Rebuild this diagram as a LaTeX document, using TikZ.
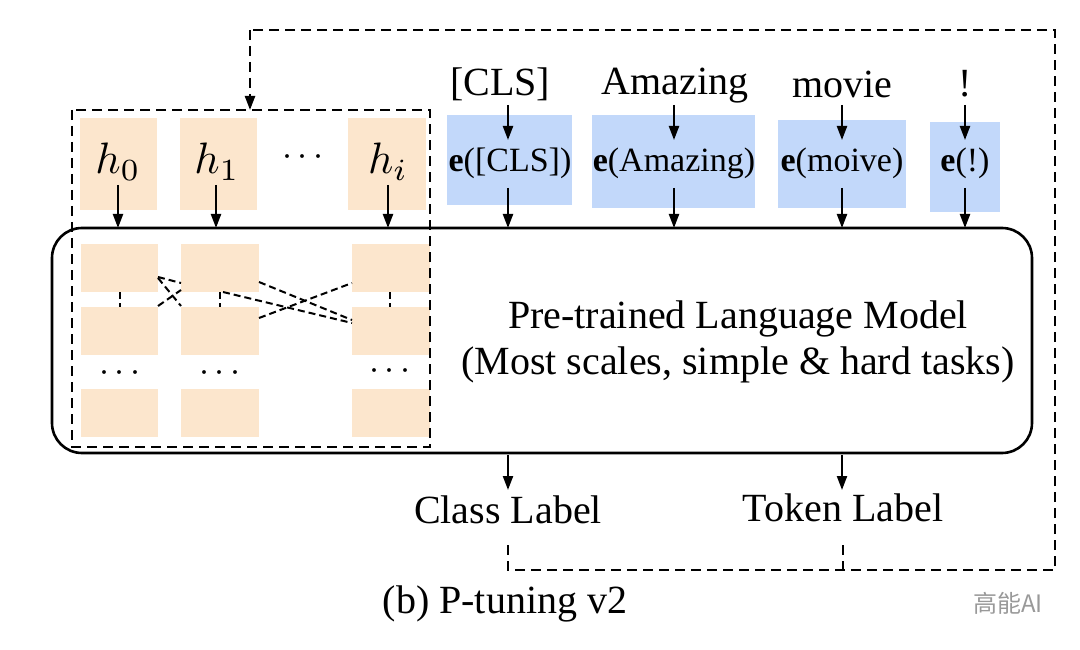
\documentclass[tikz,border=0pt]{standalone}
\usepackage{fontspec}
\usepackage{graphicx}
\setmainfont{Liberation Serif}
\newfontfamily\cjk{Noto Sans CJK SC}
\usetikzlibrary{arrows.meta}
\definecolor{org}{HTML}{FCE6CD}
\definecolor{blu}{HTML}{C2D8FA}
\begin{document}
\begin{tikzpicture}[x=1pt,y=-1pt,
  ob/.style={fill=org,draw=none},
  bb/.style={fill=blu,draw=none},
  arr/.style={-{Triangle[length=14pt,width=10pt]},line width=2.2pt},
  dsh/.style={line width=2.3pt,dash pattern=on 10pt off 6pt},
  sdsh/.style={line width=2pt,dash pattern=on 7pt off 4pt},
  txt/.style={font=\fontsize{40}{46}\selectfont},
  etxt/.style={font=\fontsize{34}{36}\selectfont},
  lab/.style={font=\fontsize{40}{42}\selectfont}]
\useasboundingbox (0,0) rectangle (1080,650);
% top orange
\fill[ob] (80,118) rectangle (157,210);
\fill[ob] (180,118) rectangle (257,210);
\fill[ob] (348,118) rectangle (426,210);
\node (h0) at (118,162) {\scalebox{4.4}{$h_0$}};
\node (h1) at (217,162) {\scalebox{4.4}{$h_1$}};
\node (hi) at (388,162) {\scalebox{4.4}{$h_i$}};
\node (hd) at (303,158) {\scalebox{3.6}{$\cdots$}};
% rounded model
\draw[line width=2.6pt,rounded corners=30pt] (52,228) rectangle (1032,453);
\node[txt,align=center] (plm) at (738,342) {Pre-trained Language Model\\(Most scales, simple \& hard tasks)};
% inner boxes
\foreach \x/\w in {81/158,181/259,352/430}{
  \fill[ob] (\x,244) rectangle (\w,292);
  \fill[ob] (\x,307) rectangle (\w,355);
  \fill[ob] (\x,389) rectangle (\w,437);
}
\node (d1) at (120,373) {\scalebox{3.6}{$\cdots$}};
\node (d2) at (220,373) {\scalebox{3.6}{$\cdots$}};
\node (d3) at (390,371) {\scalebox{3.6}{$\cdots$}};
\foreach \x in {120,220,390}{\draw[sdsh] (\x,292) -- (\x,307);}
\draw[sdsh] (158,278) -- (181,306);
\draw[sdsh] (158,306) -- (181,290);
\draw[sdsh] (158,277) -- (181,283);
\draw[sdsh] (223,292) -- (352,323);
\draw[sdsh] (259,282) -- (352,320);
\draw[sdsh] (259,318) -- (352,283);
% dashed group box
\draw[dsh] (72,110) rectangle (430,447);
% h arrows
\draw[arr] (118,185) -- (118,228);
\draw[arr] (216,185) -- (216,228);
\draw[arr] (388,185) -- (388,228);
% blue boxes
\fill[bb] (447,115) rectangle (572,205);
\fill[bb] (592,115) rectangle (755,208);
\fill[bb] (778,120) rectangle (906,208);
\fill[bb] (930,122) rectangle (1000,212);
\node[etxt] (e1) at (510,163) {\textbf{e}([CLS])};
\node[etxt] (e2) at (674,163) {\textbf{e}(Amazing)};
\node[etxt] (e3) at (842,163) {\textbf{e}(moive)};
\node[etxt] (e4) at (965,163) {\textbf{e}(!)};
\node[lab] (w1) at (500,84) {[CLS]};
\node[lab] (w2) at (675,86) {Amazing};
\node[lab] (w3) at (842,84) {movie};
\node[lab] (w4) at (965,84) {!};
\foreach \x in {508,674,842,965}{
  \draw[arr] (\x,105) -- (\x,140);
  \draw[arr] (\x,188) -- (\x,228);
}
% outputs
\draw[arr] (508,455) -- (508,490);
\draw[arr] (842,455) -- (842,490);
\node[lab] (cl) at (508,510) {Class Label};
\node[lab] (tl) at (843,508) {Token Label};
% feedback
\coordinate (f1) at (508,545);
\coordinate (f2) at (843,545);
\draw[dsh] (f1) -- (508,570) -- (1055,570) -- (1055,30) -- (250,30);
\draw[dsh] (f2) -- (843,570);
\draw[dsh,-{Triangle[length=14pt,width=10pt]}] (250,30) -- (250,110);
% caption
\node[font=\fontsize{40}{42}\selectfont] (cap) at (505,604) {(b) P-tuning v2};
\node[font=\cjk\fontsize{24}{26}\selectfont,text=gray!80] (wm) at (1008,603) {高能AI};
\end{tikzpicture}
\end{document}
